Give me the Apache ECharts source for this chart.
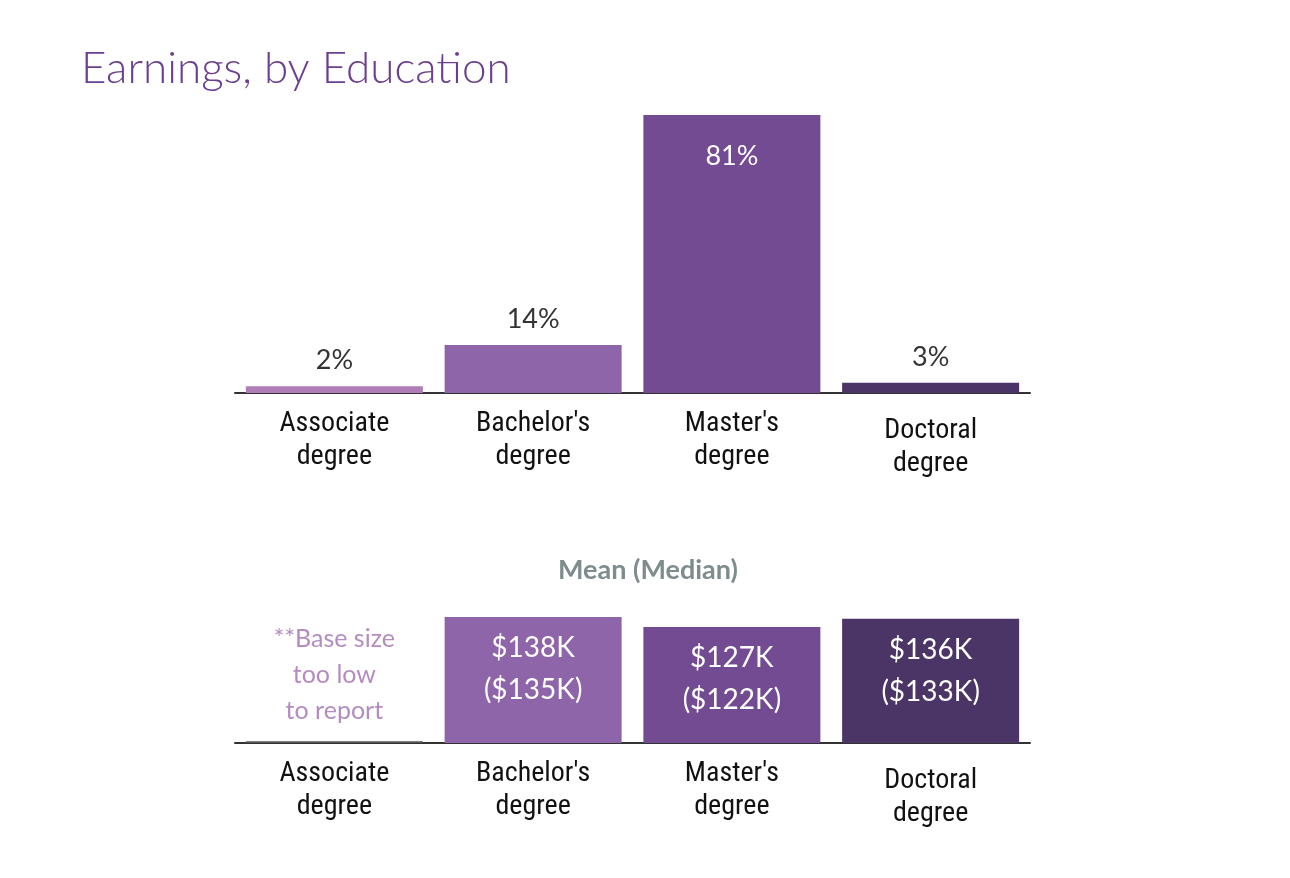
<!DOCTYPE html>
<html>
<head>
<meta charset="utf-8">
<title>Earnings, by Education</title>
<script src="https://cdn.jsdelivr.net/npm/echarts@6/dist/echarts.min.js"></script>
<style>
  html, body { margin: 0; padding: 0; background: #fff; }
  #chart { width: 1290px; height: 878px; }
</style>
</head>
<body>
<div id="chart"></div>
<script>
// data
var categories = ["Associate\ndegree", "Bachelor's\ndegree", "Master's\ndegree", "Doctoral\ndegree"];
var sharePct = [2, 14, 81, 3];
var meanK = [2, 138, 127, 136];   // associate: base too low, drawn as a stub
var medianK = [null, 135, 122, 133];
var barColors = ['#b07db9', '#8e65a8', '#734b92', '#4a3566'];

var chart = echarts.init(document.getElementById('chart'));

var axisFont = '"Roboto Condensed", "DejaVu Sans Condensed", Roboto, sans-serif';
var catAxis = function (gi) {
  return {
    type: 'category',
    gridIndex: gi,
    data: categories,
    axisLine: { lineStyle: { color: '#333', width: 2 } },
    axisTick: { show: false },
    axisLabel: {
      color: '#111', fontSize: 28, lineHeight: 33, fontFamily: axisFont, margin: 14,
      formatter: function (v, i) { return i === 3 ? '{d|' + v + '}' : v; },
      rich: { d: { fontSize: 28, lineHeight: 33, padding: [14, 0, 0, 0], color: '#111', fontFamily: axisFont } }
    }
  };
};

var topData = sharePct.map(function (v, i) {
  var item = { value: v, itemStyle: { color: barColors[i] } };
  if (i === 2) item.label = { position: 'insideTop', distance: 28, color: '#fff' };
  return item;
});

var bottomData = meanK.map(function (v, i) {
  if (i === 0) {
    return {
      value: v,
      itemStyle: { color: '#555' },
      label: {
        position: 'top', distance: 12, color: '#b48cc0', fontSize: 25, lineHeight: 36,
        formatter: '**Base size\ntoo low\nto report'
      }
    };
  }
  return { value: v, itemStyle: { color: barColors[i] } };
});

var option = {
  backgroundColor: '#fff',
  animation: false,
  title: [{
    text: 'Earnings, by Education',
    left: 76, top: 42,
    textStyle: { color: '#6b3f8f', fontSize: 44, fontWeight: 300, fontFamily: 'Lato, "Open Sans", sans-serif' }
  }, {
    text: 'Mean (Median)',
    left: 643, top: 552, textAlign: 'center',
    textStyle: { color: '#7f8c8d', fontSize: 27, fontWeight: 'bold', fontFamily: 'Lato, "Open Sans", sans-serif' }
  }],
  grid: [
    { left: 235, width: 795, top: 115, height: 278 },
    { left: 235, width: 795, top: 617, height: 126 }
  ],
  xAxis: [catAxis(0), catAxis(1)],
  yAxis: [
    { type: 'value', gridIndex: 0, min: 0, max: 81, show: false },
    { type: 'value', gridIndex: 1, min: 0, max: 138, show: false }
  ],
  series: [{
    type: 'bar',
    xAxisIndex: 0, yAxisIndex: 0,
    barWidth: 177,
    data: topData,
    label: {
      show: true, position: 'top', distance: 12, color: '#333', fontSize: 27,
      fontFamily: 'Lato, "Open Sans", sans-serif',
      formatter: function (p) { return p.value + '%'; }
    }
  }, {
    type: 'bar',
    xAxisIndex: 1, yAxisIndex: 1,
    barWidth: 177,
    data: bottomData,
    label: {
      show: true, position: 'insideTop', distance: 10, color: '#fff', fontSize: 28, lineHeight: 42,
      fontFamily: 'Lato, "Open Sans", sans-serif',
      formatter: function (p) {
        return '$' + p.value + 'K\n($' + medianK[p.dataIndex] + 'K)';
      }
    }
  }]
};

chart.setOption(option);
</script>
</body>
</html>
